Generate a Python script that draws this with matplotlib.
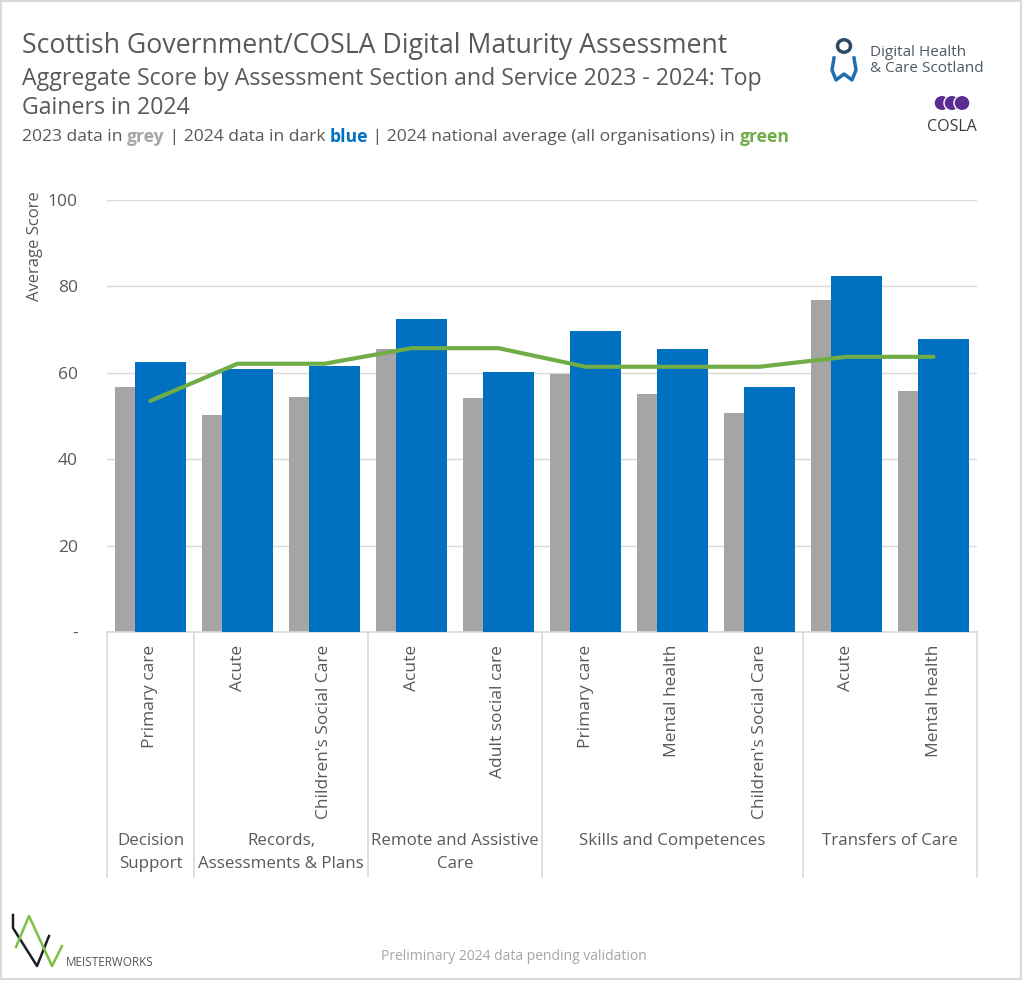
import numpy as np
import matplotlib
matplotlib.use('Agg')
from matplotlib import pyplot as plt
from matplotlib.patches import Rectangle, Circle
from matplotlib.lines import Line2D

plt.rcParams['font.family'] = ['Open Sans', 'DejaVu Sans']

# data
services = ['Primary care', 'Acute', "Children's Social Care", 'Acute', 'Adult social care',
            'Primary care', 'Mental health', "Children's Social Care", 'Acute', 'Mental health']
sections = ['Decision\nSupport', 'Records,\nAssessments & Plans', 'Remote and Assistive\nCare',
            'Skills and Competences', 'Transfers of Care']
section_sizes = [1, 2, 2, 3, 2]
score_2023 = [56.7, 50.3, 54.3, 65.4, 54.2, 59.8, 55.2, 50.6, 76.8, 55.7]
score_2024 = [62.4, 60.9, 61.5, 72.4, 60.1, 69.7, 65.4, 56.8, 82.3, 67.8]
national_avg = [53.5, 62.1, 62.1, 65.7, 65.7, 61.4, 61.4, 61.4, 63.7, 63.7]
yticks = [0, 20, 40, 60, 80, 100]
ytick_labels = ['-', '20', '40', '60', '80', '100']

GREY = '#A5A5A5'
BLUE = '#0070C0'
GREEN = '#70AD47'
TXT = '#595959'
LINE = '#D9D9D9'

W, H = 1024, 982
fig = plt.figure(figsize=(W / 100, H / 100), dpi=100)
fig.patch.set_facecolor('white')

def fx(px):
    return px / W

def fy(py):
    return 1 - py / H

ax = fig.add_axes([fx(107), fy(632), fx(977) - fx(107), fy(200) - fy(632)])
x = np.arange(len(services))
ax.bar(x - 0.12, score_2023, width=0.585, color=GREY, zorder=2)
ax.bar(x + 0.113, score_2024, width=0.585, color=BLUE, zorder=3)
ax.plot(x, national_avg, color=GREEN, lw=3, zorder=4, solid_capstyle='round')

ax.set_xlim(-0.5, len(services) - 0.5)
ax.set_ylim(0, 100)
ax.set_yticks(yticks)
ax.set_yticklabels(ytick_labels, color=TXT, fontsize=12.5)
ax.set_xticks([])
ax.tick_params(axis='y', length=0, pad=21)
ax.grid(axis='y', color=LINE, lw=1, zorder=0)
ax.set_axisbelow(True)
for s in ['top', 'right', 'left']:
    ax.spines[s].set_visible(False)
ax.spines['bottom'].set_color(LINE)
ax.spines['bottom'].set_linewidth(1.2)

tr = ax.get_xaxis_transform()
ah = 632 - 200
for i, name in enumerate(services):
    ax.text(i, -13 / ah, name, rotation=90, ha='center', va='top', transform=tr,
            color=TXT, fontsize=12.5)

bounds = np.concatenate([[0], np.cumsum(section_sizes)]) - 0.5
for b in bounds:
    ax.add_line(Line2D([b, b], [0, -(877 - 632) / ah], transform=tr, color=LINE,
                       lw=1.2, clip_on=False))
for k, name in enumerate(sections):
    mid = (bounds[k] + bounds[k + 1]) / 2
    ax.text(mid, -(833 - 632) / ah, name, ha='center', va='top', transform=tr,
            color=TXT, fontsize=12.2, linespacing=1.6)

fig.text(fx(35), fy(246), 'Average Score', rotation=90, ha='center', va='center',
         color=TXT, fontsize=12)

# titles
fig.text(fx(22), fy(46), 'Scottish Government/COSLA Digital Maturity Assessment',
         color=TXT, fontsize=19.2, va='center')
fig.text(fx(22), fy(79), 'Aggregate Score by Assessment Section and Service 2023 - 2024: Top',
         color=TXT, fontsize=16.7, va='center')
fig.text(fx(22), fy(108), 'Gainers in 2024', color=TXT, fontsize=16.7, va='center')

parts = [('2023 data in ', TXT, 'normal'), ('grey', GREY, 'bold'),
         (' | 2024 data in dark ', TXT, 'normal'), ('blue', BLUE, 'bold'),
         (' | 2024 national average (all organisations) in ', TXT, 'normal'),
         ('green', GREEN, 'bold')]
fig.canvas.draw()
renderer = fig.canvas.get_renderer()
xpos = 22
for txt, col, wt in parts:
    t = fig.text(xpos / W, fy(137), txt, color=col, fontweight=wt, fontsize=12.6, va='center')
    xpos = t.get_window_extent(renderer).x1

fig.text(fx(514), fy(956), 'Preliminary 2024 data pending validation', ha='center',
         va='center', color='#A6A6A6', fontsize=10)

# logos (simplified)
fig.add_artist(Circle((fx(844), fy(46)), 6.5 / W, transform=fig.transFigure,
                      fill=False, ec='#2E4A62', lw=2.5))
heart = Line2D([fx(834), fx(832), fx(836), fx(844), fx(852), fx(856), fx(854)],
               [fy(58), fy(70), fy(80), fy(74), fy(80), fy(70), fy(58)],
               transform=fig.transFigure, color='#1F6FB2', lw=2.5)
fig.add_artist(heart)
fig.text(fx(870), fy(52), 'Digital Health', color='#4D5964', fontsize=11, va='center')
fig.text(fx(870), fy(68), '& Care Scotland', color='#4D5964', fontsize=11, va='center')
for cxp in [942, 952, 962]:
    fig.add_artist(Circle((fx(cxp), fy(103)), 8 / W, transform=fig.transFigure,
                          color='#5C2D91', ec='white', lw=1))
fig.text(fx(952), fy(127), 'COSLA', ha='center', va='center', color='#3C3C3C', fontsize=11.5)

fig.add_artist(Line2D([fx(13), fx(13), fx(37), fx(49)], [fy(915), fy(928), fy(966), fy(936)],
                      transform=fig.transFigure, color='#1E1E2A', lw=1.8))
fig.add_artist(Line2D([fx(16), fx(29), fx(52), fx(62)], [fy(947), fy(916), fy(966), fy(946)],
                      transform=fig.transFigure, color='#7AC143', lw=1.8))
fig.text(fx(66), fy(962), 'MEISTERWORKS', color='#555555', fontsize=8.5, va='center')

fig.add_artist(Rectangle((fx(1), fy(979)), fx(1020), 978 / H, transform=fig.transFigure,
                         fill=False, ec=LINE, lw=1.5))

fig.savefig('out.png', dpi=100, facecolor='white')
